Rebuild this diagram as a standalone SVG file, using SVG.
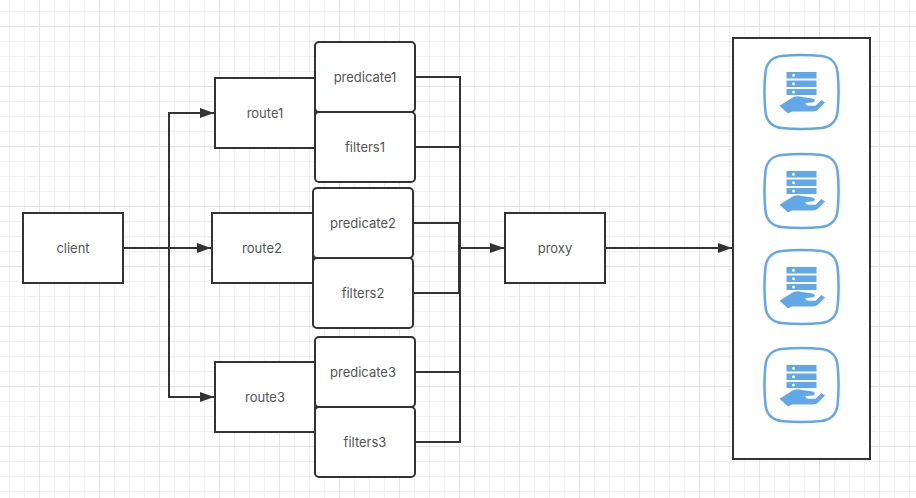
<svg xmlns="http://www.w3.org/2000/svg" width="916" height="498" viewBox="0 0 916 498">
<defs>
<pattern id="grid" x="0" y="0" width="60" height="60" patternUnits="userSpaceOnUse" patternTransform="translate(39 26)">
<path d="M15.500 0V60M30.500 0V60M45.500 0V60M0 15.500H60M0 30.500H60M0 45.500H60" stroke="#f0f0f0" stroke-width="1" fill="none"/>
<path d="M0.500 0V60M0 0.500H60" stroke="#e4e4e4" stroke-width="1" fill="none"/>
</pattern>
<marker id="arrow" markerUnits="userSpaceOnUse" markerWidth="15" markerHeight="12" refX="14" refY="6" orient="auto">
<path d="M0 1L14 6L0 11Z" fill="#333"/>
</marker>
<g id="server">
<path d="M-20 -36C-8 -37.300 8 -37.300 20 -36C29 -35 35 -29 36 -20C37.300 -8 37.300 8 36 20C35 29 29 35 20 36C8 37.300 -8 37.300 -20 36C-29 35 -35 29 -36 20C-37.300 8 -37.300 -8 -36 -20C-35 -29 -29 -35 -20 -36Z" fill="#fff" stroke="#62a8e8" stroke-width="2.500"/>
<path fill-rule="evenodd" fill="#62a8e8" d="M-15 -20H15V-13.500H-15ZM-9.500 -16.750a1.500 1.500 0 1 0 3 0a1.500 1.500 0 1 0 -3 0ZM-15 -11.500H15V-5H-15ZM-9.500 -8.250a1.500 1.500 0 1 0 3 0a1.500 1.500 0 1 0 -3 0ZM-15 -3H15V3H-15ZM-9.500 0a1.500 1.500 0 1 0 3 0a1.500 1.500 0 1 0 -3 0Z"/>
<path fill="#62a8e8" d="M-22 13.700L-8 5C-5 4 -2 4 -1 4.700L11 6.500C14 6.700 14 10 11 10.500L4 11C4 12.500 5 13.700 7 13.700H14L20 8L23.500 10.500L16 18C14.500 19 13 19.400 11 19.400H-9.500L-13.500 21.500Z"/>
</g>
</defs>
<style>
.b{fill:#fff;stroke:#333;stroke-width:2}
.c{fill:none;stroke:#333;stroke-width:2}
text{font-family:"Inter","Liberation Sans",sans-serif;font-size:13px;fill:#555;text-anchor:middle;dominant-baseline:central}
</style>
<rect width="916" height="498" fill="#fff"/>
<rect width="916" height="498" fill="url(#grid)"/>
<g id="connectors">
<path class="c" d="M123 248H211" marker-end="url(#arrow)"/>
<path class="c" d="M169 248V113H214" marker-end="url(#arrow)"/>
<path class="c" d="M169 248V397H214" marker-end="url(#arrow)"/>
<path class="c" d="M415 77H460V442H415"/>
<path class="c" d="M415 147H460"/>
<path class="c" d="M413 223H459V293H413"/>
<path class="c" d="M415 372H460"/>
<path class="c" d="M460 248H504" marker-end="url(#arrow)"/>
<path class="c" d="M605 248H732" marker-end="url(#arrow)"/>
</g>
<g id="client"><rect class="b" x="23" y="213" width="100" height="70"/><text x="73" y="248">client</text></g>
<g id="route1"><rect class="b" x="215" y="78" width="100" height="70"/><text x="265" y="113">route1</text></g>
<g id="route2"><rect class="b" x="212" y="213" width="101" height="70"/><text x="262" y="248">route2</text></g>
<g id="route3"><rect class="b" x="215" y="362" width="100" height="70"/><text x="265" y="397">route3</text></g>
<g id="predicate1"><rect class="b" x="315" y="42" width="100" height="70" rx="4"/><text x="365" y="77">predicate1</text></g>
<g id="filters1"><rect class="b" x="315" y="112" width="100" height="70" rx="4"/><text x="365" y="147">filters1</text></g>
<g id="predicate2"><rect class="b" x="313" y="188" width="100" height="70" rx="4"/><text x="363" y="223">predicate2</text></g>
<g id="filters2"><rect class="b" x="313" y="258" width="100" height="70" rx="4"/><text x="363" y="293">filters2</text></g>
<g id="predicate3"><rect class="b" x="315" y="337" width="100" height="70" rx="4"/><text x="363" y="372">predicate3</text></g>
<g id="filters3"><rect class="b" x="315" y="407" width="100" height="70" rx="4"/><text x="365" y="442">filters3</text></g>
<g id="proxy"><rect class="b" x="505" y="213" width="100" height="70"/><text x="555" y="248">proxy</text></g>
<g id="servers"><rect class="b" x="733" y="38" width="137" height="421"/></g>
<g id="server1"><use href="#server" x="801.500" y="92"/></g>
<g id="server2"><use href="#server" x="801.500" y="191"/></g>
<g id="server3"><use href="#server" x="801.500" y="287"/></g>
<g id="server4"><use href="#server" x="801.500" y="385"/></g>
</svg>
